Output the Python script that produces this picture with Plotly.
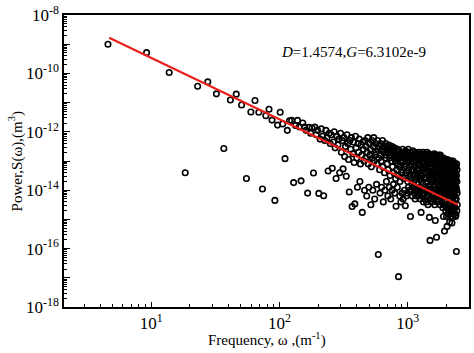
import plotly.graph_objects as go

# ---------------- data ----------------
FREQ_STEP = 4.6  # spacing of the frequency samples (m^-1)

# log10 of power S(omega) for the k-th frequency sample (k = 1, 2, ...)
power_exp = [
    -9.00, -9.29, -9.97, -13.40, -10.44, -10.29, -10.70, -12.57, -10.91, -10.71,
    -11.08, -13.60, -11.32, -10.93, -11.33, -13.96, -11.45, -11.23, -11.60, -14.35,
    -11.77, -11.33, -11.73, -12.92, -11.95, -11.62, -11.61, -13.74, -11.78, -11.61,
    -11.83, -13.68, -11.70, -11.84, -11.95, -14.10, -11.85, -12.05, -11.87, -13.41,
    -11.84, -12.10, -11.95, -14.11, -12.25, -11.90, -12.15, -14.19, -12.30, -11.95,
    -12.20, -13.34, -12.05, -12.40, -12.10, -13.25, -12.35, -12.00, -12.55, -13.60,
    -12.15, -12.45, -12.25, -13.40, -12.05, -12.70, -12.30, -13.27, -12.20, -12.85,
    -12.50, -13.52, -12.10, -12.40, -12.95, -14.06, -12.30, -12.60, -12.20, -14.56,
    -12.75, -12.35, -13.05, -14.47, -12.15, -12.55, -12.90, -13.90, -12.40, -12.70,
    -12.25, -13.70, -13.10, -12.45, -12.80, -14.76, -12.35, -12.60, -13.00, -14.00,
    -12.3, -12.9, -12.5, -14.2, -12.7, -12.2, -13.1, -13.9, -12.4, -12.8, -12.6, -14.5, -13.2, -12.3, -12.9, -14.0,
    -12.5, -12.2, -13.0, -14.3, -12.8, -12.4, -12.7, -13.8, -13.1, -12.3, -12.6, -16.2, -12.9, -12.5, -13.3, -14.1,
    -12.4, -12.8, -13.0, -13.9, -12.6, -12.3, -13.2, -14.4, -12.7, -12.5, -13.4, -14.0, -12.9, -12.4, -12.8, -13.7,
    -12.6, -13.1, -12.5, -14.2, -13.3, -12.7, -12.45, -13.9, -12.9, -13.5, -12.6, -14.3, -12.8, -13.0, -12.5, -14.0,
    -13.2, -12.7, -12.6, -13.8, -13.4, -12.9, -12.55, -14.1, -12.8, -13.0, -13.6, -14.55, -12.7, -13.3, -12.9, -13.9,
    -12.6, -13.1, -13.5, -16.96, -12.8, -12.65, -13.2, -14.2, -13.7, -12.9, -13.0, -14.4, -12.7, -13.4, -12.8, -14.1,
    -13.3, -12.6, -13.0, -14.3, -12.9, -13.6, -12.7, -14.0, -13.2, -12.8, -13.5, -14.53, -12.65, -13.1, -12.9, -14.2,
    -13.4, -12.7, -13.0, -14.1, -13.7, -12.9, -12.6, -13.9, -13.3, -13.0, -12.8, -14.0, -13.5, -12.7, -13.2, -14.9,
    -12.9, -13.6, -12.7, -14.0, -13.1, -13.8, -12.8, -14.2, -13.3, -12.65, -13.0, -13.9, -13.5, -12.9, -13.7, -14.1,
    -12.8, -13.2, -13.9, -14.3, -12.7, -13.4, -13.0, -14.0, -13.6, -12.9, -13.3, -14.2, -12.75, -13.8, -13.1, -14.0,
    -13.5, -12.8, -13.0, -14.2, -13.9, -12.7, -13.3, -14.1, -13.1, -13.6, -12.9, -14.3, -13.4, -12.75, -14.0, -14.76,
    -13.2, -12.9, -13.7, -14.0, -12.8, -13.5, -13.0, -14.2, -13.8, -12.7, -13.3, -14.4, -13.0, -14.0, -12.85, -14.1,
    -13.6, -13.1, -12.75, -14.3, -13.4, -13.9, -12.9, -14.0, -13.2, -12.8, -13.6, -14.4, -14.0, -13.0, -12.7, -14.2,
    -13.3, -13.7, -12.9, -14.5, -13.1, -12.8, -13.5, -14.1, -13.9, -12.75, -13.2, -14.93, -13.6, -13.0, -12.85, -15.72,
    -13.4, -13.8, -12.9, -14.3, -13.1, -14.0, -12.8, -14.1, -13.5, -13.2, -12.9, -14.4, -13.7, -13.0, -14.1, -14.2,
    -12.8, -13.4, -13.6, -14.3, -13.0, -12.9, -13.9, -14.0, -13.3, -12.75, -13.5, -14.5, -13.8, -13.1, -12.9, -15.04,
    -13.4, -14.0, -12.8, -14.2, -13.2, -13.6, -12.9, -15.61, -13.0, -13.7, -14.1, -14.1, -12.85, -13.3, -13.5, -14.4,
    -13.1, -12.9, -13.8, -14.2, -13.4, -12.8, -14.0, -14.3, -13.6, -13.0, -13.2, -14.0, -12.9, -13.9, -13.5, -14.5,
    -13.3, -12.8, -14.1, -14.2, -13.0, -13.7, -12.9, -14.1, -13.5, -14.0, -13.2, -14.4, -12.95, -13.6, -13.8, -14.2,
    -13.1, -13.9, -13.4, -14.6, -13.0, -14.2, -13.6, -14.9, -13.3, -12.9, -13.8, -14.5, -14.1, -13.2, -13.5, -15.40,
    -13.0, -13.7, -14.0, -14.4, -13.4, -12.95, -13.9, -14.7, -13.2, -13.6, -14.2, -14.5, -13.1, -13.8, -13.3, -14.9,
    -13.5, -13.0, -14.1, -15.24, -13.3, -13.9, -12.95, -14.6, -13.7, -14.2, -13.1, -14.8, -13.4, -13.6, -14.0, -14.5,
    -13.0, -13.8, -14.3, -14.7, -13.2, -13.5, -14.0, -15.10, -13.6, -13.1, -13.9, -14.6, -13.3, -14.2, -13.0, -14.9,
    -13.7, -13.4, -14.1, -14.5, -13.0, -13.8, -13.5, -14.8, -14.2, -13.2, -13.6, -15.12, -13.9, -13.1, -14.0, -14.6,
    -13.3, -13.7, -14.2, -14.9, -13.5, -13.0, -13.8, -14.4, -14.1, -13.4, -13.2, -14.7, -13.6, -14.0, -13.1, -14.5,
    -13.8, -13.3, -14.2, -14.8, -13.1, -13.9, -13.5, -14.6, -14.3, -13.2, -13.7, -14.9, -13.4, -14.0, -13.6, -14.86,
    -13.2, -13.9, -14.3, -16.10, -13.5, -13.1, -14.0, -14.7, -13.7, -13.3, -14.1, -14.5,
]

freq = [FREQ_STEP * k for k in range(1, len(power_exp) + 1)]
power = [10 ** e for e in power_exp]

# fitted power-law line (end points)
fit_freq = [4.7, 2455]
fit_power = [1.65e-9, 3.18e-15]

annotation_text = "<i>D</i>=1.4574,<i>G</i>=6.3102e-9"

x_major = [10, 100, 1000]
x_major_text = ["10<sup>1</sup>", "10<sup>2</sup>", "10<sup>3</sup>"]
y_exps = [-8, -9, -10, -11, -12, -13, -14, -15, -16, -17, -18]

# ---------------- figure ----------------
FONT = "Liberation Serif"

fig = go.Figure()
fig.add_trace(go.Scatter(
    x=freq, y=power, mode="markers",
    marker=dict(symbol="circle-open", size=5.5, color="black", line=dict(width=1.6, color="black")),
    showlegend=False, hoverinfo="skip",
))
fig.add_trace(go.Scatter(
    x=fit_freq, y=fit_power, mode="lines",
    line=dict(color="#e8201c", width=2.2),
    showlegend=False, hoverinfo="skip",
))

x_minor = [m * d for d in [1, 10, 100, 1000] for m in range(2, 10) if 2 <= m * d <= 3000]
y_minor = [m * 10.0 ** e for e in range(-18, -8) for m in range(2, 10)]

fig.update_xaxes(
    type="log", range=[0.320, 3.477],
    tickmode="array", tickvals=x_major, ticktext=x_major_text,
    ticks="inside", ticklen=5, tickwidth=1.2, tickcolor="black",
    minor=dict(tickmode="array", tickvals=x_minor, ticks="inside", ticklen=3, tickwidth=1, tickcolor="black", showgrid=False),
    showline=True, linecolor="black", linewidth=1.5, mirror=True,
    showgrid=False, zeroline=False,
    tickfont=dict(family=FONT, size=17, color="black"),
)
fig.update_yaxes(
    type="log", range=[-18, -8],
    tickmode="array", tickvals=[10.0 ** e for e in y_exps],
    ticktext=[("10<sup>%d</sup>" % e) if e % 2 == 0 else "" for e in y_exps],
    ticks="inside", ticklen=6, tickwidth=1.2, tickcolor="black",
    minor=dict(tickmode="array", tickvals=y_minor, ticks="inside", ticklen=3, tickwidth=1, tickcolor="black", showgrid=False),
    showline=True, linecolor="black", linewidth=1.5, mirror=True,
    showgrid=False, zeroline=False,
    tickfont=dict(family=FONT, size=17, color="black"),
)

fig.update_layout(
    width=474, height=353,
    margin=dict(l=64, r=3, t=13, b=46),
    paper_bgcolor="white", plot_bgcolor="white",
    font=dict(family=FONT, size=15, color="black"),
    annotations=[
        dict(text=annotation_text, xref="paper", yref="paper", x=0.715, y=0.874,
             xanchor="center", yanchor="middle",
             showarrow=False, font=dict(family=FONT, size=15, color="black")),
        dict(text="Power,S(ω),(m<sup>3</sup>)", xref="paper", yref="paper", x=-0.120, y=0.5,
             xanchor="center", yanchor="middle",
             textangle=-90, showarrow=False, font=dict(family=FONT, size=15, color="black")),
        dict(text="Frequency, ω ,(m<sup>-1</sup>)", xref="paper", yref="paper", x=0.501, y=-0.112,
             xanchor="center", yanchor="middle",
             showarrow=False, font=dict(family=FONT, size=15, color="black")),
    ],
)

fig.write_html("out.html")
